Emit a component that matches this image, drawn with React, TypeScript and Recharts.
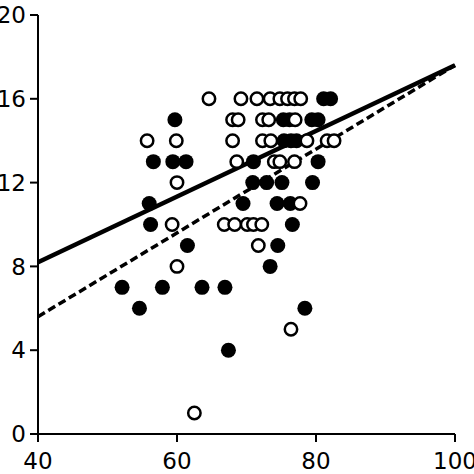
import React from 'react';
import { ScatterChart, Scatter, XAxis, YAxis, ReferenceLine } from 'recharts';

// filled circles
const filledX = [
  81.1, 82.1,
  59.7, 75.3, 76.2, 79.4, 80.3,
  75.4, 76.4, 77.2,
  56.6, 59.4, 61.3, 71.0, 80.3,
  70.9, 72.9, 75.1, 79.5,
  56.0, 69.5, 74.4, 76.3,
  56.2, 76.6,
  61.5, 74.5,
  73.4,
  52.1, 57.9, 63.6, 66.9,
  54.6, 78.4,
  67.4,
];
const filledY = [
  16, 16,
  15, 15, 15, 15, 15,
  14, 14, 14,
  13, 13, 13, 13, 13,
  12, 12, 12, 12,
  11, 11, 11, 11,
  10, 10,
  9, 9,
  8,
  7, 7, 7, 7,
  6, 6,
  4,
];

// open circles
const openX = [
  64.6, 69.2, 71.5, 73.4, 74.8, 75.9, 76.9, 77.8,
  68.0, 68.8, 72.3, 73.2, 77.0,
  55.7, 59.9, 68.0, 72.3, 73.5, 78.7, 81.6, 82.6,
  68.6, 74.0, 74.8, 76.9,
  60.0,
  77.7,
  59.3, 66.8, 68.3, 70.1, 71.0, 72.2,
  71.7,
  60.0,
  76.4,
  62.5,
];
const openY = [
  16, 16, 16, 16, 16, 16, 16, 16,
  15, 15, 15, 15, 15,
  14, 14, 14, 14, 14, 14, 14, 14,
  13, 13, 13, 13,
  12,
  11,
  10, 10, 10, 10, 10, 10,
  9,
  8,
  5,
  1,
];

// regression lines (end points)
const solidLine = [{ x: 40, y: 8.2 }, { x: 100, y: 17.6 }];
const dashedLine = [{ x: 40, y: 5.6 }, { x: 100, y: 17.6 }];

const xTicks = [40, 60, 80, 100];
const yTicks = [0, 4, 8, 12, 16, 20];

const filled = filledX.map((x, i) => ({ x, y: filledY[i] }));
const open = openX.map((x, i) => ({ x, y: openY[i] }));

const tickStyle = { fill: '#000', fontSize: 23, fontFamily: 'DejaVu Sans' };

const FilledDot = (props: any) => <circle cx={props.cx} cy={props.cy} r={7.5} fill="#000" />;
const OpenDot = (props: any) => (
  <circle cx={props.cx} cy={props.cy} r={6.2} fill="#fff" stroke="#000" strokeWidth={2.5} />
);

export default function App() {
  return (
    <div style={{ width: 474, height: 474, background: '#fff' }}>
      <style>{'body{margin:0}'}</style>
      <ScatterChart width={474} height={474} margin={{ top: 15, right: 19, bottom: 0, left: 0 }}>
        <XAxis
          type="number"
          dataKey="x"
          domain={[40, 100]}
          ticks={xTicks}
          height={40}
          axisLine={{ stroke: '#000', strokeWidth: 2 }}
          tickLine={{ stroke: '#000', strokeWidth: 2 }}
          tickSize={8}
          tickMargin={11}
          tick={tickStyle}
          interval={0}
        />
        <YAxis
          type="number"
          dataKey="y"
          domain={[0, 20]}
          ticks={yTicks}
          width={38}
          axisLine={{ stroke: '#000', strokeWidth: 2 }}
          tickLine={{ stroke: '#000', strokeWidth: 2 }}
          tickSize={8}
          tickMargin={4}
          tick={tickStyle}
          interval={0}
        />
        <Scatter data={filled} shape={FilledDot} isAnimationActive={false} />
        <Scatter data={open} shape={OpenDot} isAnimationActive={false} />
        <ReferenceLine segment={solidLine} stroke="#000" strokeWidth={4.5} />
        <ReferenceLine segment={dashedLine} stroke="#000" strokeWidth={3.5} strokeDasharray="8 4" />
      </ScatterChart>
    </div>
  );
}
